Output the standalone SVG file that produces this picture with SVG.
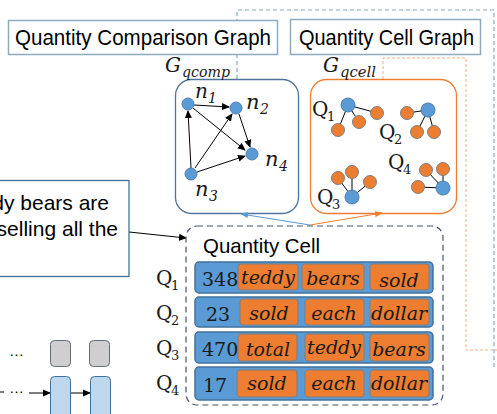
<svg xmlns="http://www.w3.org/2000/svg" width="497" height="414" viewBox="0 0 497 414">
<style>
.sans{font-family:"Liberation Sans","Open Sans",sans-serif;fill:#000}
.ser{font-family:"DejaVu Serif","Liberation Serif",serif;fill:#1a1a1a}
.it{font-family:"DejaVu Serif","Liberation Serif",serif;font-style:italic;fill:#1a1a1a}
.title{fill:#fff;stroke:#8eaabf;stroke-width:1.5}
.bn{fill:#5b9bd5;stroke:#4a7fb0;stroke-width:1}
.on{fill:#ed7d31;stroke:#7f7f7f;stroke-width:1}
.e{stroke:#000;stroke-width:1;fill:none}
.ea{stroke:#000;stroke-width:1;fill:none;marker-end:url(#ah)}
.row{fill:#5b9bd5;stroke:#41719c;stroke-width:1.5}
.chip{fill:#ed7d31;stroke:#7f7f7f;stroke-width:1}
</style>
<defs>
<marker id="ah" markerWidth="8" markerHeight="8" refX="7" refY="4" orient="auto" markerUnits="userSpaceOnUse"><path d="M0,0.5 L8,4 L0,7.5 Z" fill="#000"/></marker>
<marker id="ahb" markerWidth="8" markerHeight="6" refX="7" refY="3" orient="auto" markerUnits="userSpaceOnUse"><path d="M0,0 L8,3 L0,6 Z" fill="#5b9bd5"/></marker>
<marker id="aho" markerWidth="8" markerHeight="6" refX="7" refY="3" orient="auto" markerUnits="userSpaceOnUse"><path d="M0,0 L8,3 L0,6 Z" fill="#ed7d31"/></marker>
</defs>
<rect width="497" height="414" fill="#fff"/>

<g id="frames">
<path d="M237,79 V10 H494 V370" fill="none" stroke="#8eaabf" stroke-width="1.2" stroke-dasharray="4,3"/>
<path d="M383,79 V58 H466 V350 H497" fill="none" stroke="#f4b183" stroke-width="1" stroke-dasharray="3,2"/>
</g>

<g id="title-qcomp">
<rect class="title" x="8.5" y="20.5" width="269" height="34"/>
<text class="sans" x="15" y="45" font-size="22" textLength="256" lengthAdjust="spacingAndGlyphs">Quantity Comparison Graph</text>
</g>
<g id="title-qcell">
<rect class="title" x="290.5" y="19.5" width="190" height="35"/>
<text class="sans" x="299" y="45" font-size="22" textLength="175" lengthAdjust="spacingAndGlyphs">Quantity Cell Graph</text>
</g>

<g id="gqcomp">
<rect x="175.5" y="79.5" width="123" height="134" rx="16" fill="#fff" stroke="#50739a" stroke-width="1.3"/>
<text class="it" x="165" y="72" font-size="20">G</text>
<text class="it" x="182" y="77" font-size="14" textLength="48" lengthAdjust="spacingAndGlyphs">qcomp</text>
</g>
<g id="gqcell">
<rect x="310.5" y="79.5" width="146" height="134" rx="16" fill="#fff" stroke="#ed7d31" stroke-width="1.3"/>
<text class="it" x="323" y="72" font-size="20">G</text>
<text class="it" x="340" y="77" font-size="14" textLength="36" lengthAdjust="spacingAndGlyphs">qcell</text>
</g>

<g id="qcomp-edges">
<line class="ea" x1="194" y1="105" x2="229" y2="107"/>
<line class="ea" x1="193" y1="108" x2="245" y2="150"/>
<line class="ea" x1="239" y1="114" x2="250" y2="147"/>
<line class="ea" x1="191" y1="168" x2="188" y2="111"/>
<line class="ea" x1="195" y1="168" x2="232" y2="114"/>
<line class="ea" x1="197" y1="172" x2="245" y2="156"/>
</g>
<g id="n1"><circle class="bn" cx="188" cy="104" r="6"/><text class="it" x="195" y="98" font-size="20">n</text><text class="it" x="208" y="103" font-size="14">1</text></g>
<g id="n2"><circle class="bn" cx="236" cy="108" r="6"/><text class="it" x="246" y="109" font-size="21">n</text><text class="it" x="260" y="114" font-size="14">2</text></g>
<g id="n4"><circle class="bn" cx="252" cy="154" r="6"/><text class="it" x="265" y="166" font-size="21">n</text><text class="it" x="279" y="171" font-size="14">4</text></g>
<g id="n3"><circle class="bn" cx="191" cy="174" r="6"/><text class="it" x="195" y="196" font-size="21">n</text><text class="it" x="209" y="201" font-size="14">3</text></g>

<g id="qcell-Q1">
<path class="e" d="M348,105 L377,113 M348,105 L359,122 M348,105 L338,130"/>
<circle class="on" cx="377" cy="113" r="6.5"/><circle class="on" cx="359" cy="122" r="6.5"/><circle class="on" cx="338" cy="130" r="6.5"/>
<circle class="bn" cx="348" cy="105" r="7"/>
<text class="ser" x="312" y="116" font-size="20">Q</text><text class="ser" x="327" y="121" font-size="13">1</text>
</g>
<g id="qcell-Q2">
<path class="e" d="M428,110 L407,113 M428,110 L417,132 M428,110 L434,132"/>
<circle class="on" cx="407" cy="113" r="6.5"/><circle class="on" cx="417" cy="132" r="6.5"/><circle class="on" cx="434" cy="132" r="6.5"/>
<circle class="bn" cx="428" cy="110" r="7"/>
<text class="ser" x="379" y="139" font-size="20">Q</text><text class="ser" x="394" y="144" font-size="13">2</text>
</g>
<g id="qcell-Q4">
<path class="e" d="M443,188 L418,187 M443,188 L426,170 M443,188 L443,169"/>
<circle class="on" cx="426" cy="170" r="6.5"/><circle class="on" cx="443" cy="169" r="6.5"/><circle class="on" cx="418" cy="187" r="6.5"/>
<circle class="bn" cx="443" cy="188" r="7"/>
<text class="ser" x="388" y="169" font-size="20">Q</text><text class="ser" x="403" y="174" font-size="13">4</text>
</g>
<g id="qcell-Q3">
<path class="e" d="M352,197 L338,178 M352,197 L352,172 M352,197 L370,182"/>
<circle class="on" cx="338" cy="178" r="6.5"/><circle class="on" cx="352" cy="172" r="6.5"/><circle class="on" cx="370" cy="182" r="6.5"/>
<circle class="bn" cx="352" cy="197" r="7"/>
<text class="ser" x="317" y="204" font-size="20">Q</text><text class="ser" x="332" y="209" font-size="13">3</text>
</g>

<g id="connectors">
<line x1="310" y1="225" x2="241" y2="214" stroke="#5b9bd5" stroke-width="1" marker-end="url(#ahb)"/>
<line x1="310" y1="225" x2="382" y2="213" stroke="#ed7d31" stroke-width="1" marker-end="url(#aho)"/>
<line x1="129" y1="232" x2="186" y2="238" stroke="#000" stroke-width="1" marker-end="url(#ah)"/>
<line x1="29" y1="393" x2="50" y2="393" stroke="#000" stroke-width="1" marker-end="url(#ah)"/>
<line x1="70" y1="393" x2="90" y2="393" stroke="#000" stroke-width="1" marker-end="url(#ah)"/>
<line x1="0" y1="392" x2="4" y2="392" stroke="#000" stroke-width="1"/>
</g>

<g id="text-box">
<rect x="-5" y="180.5" width="134" height="96" fill="#fff" stroke="#41719c" stroke-width="1.3"/>
<text class="sans" x="109" y="210" font-size="21" text-anchor="end">dy bears are</text>
<text class="sans" x="118" y="236" font-size="21" text-anchor="end">selling all the</text>
</g>

<g id="quantity-cell">
<rect x="186" y="226" width="257" height="179" rx="11" fill="#fff" stroke="#44546a" stroke-width="1.2" stroke-dasharray="6,4"/>
<text class="sans" x="203" y="253" font-size="21" textLength="117" lengthAdjust="spacingAndGlyphs">Quantity Cell</text>
<rect class="row" x="195" y="262" width="238" height="31" rx="4"/>
<rect class="row" x="195" y="297" width="238" height="30" rx="4"/>
<rect class="row" x="195" y="332" width="238" height="31" rx="4"/>
<rect class="row" x="195" y="367" width="238" height="33" rx="4"/>
<rect class="chip" x="238" y="264" width="60" height="26" rx="3"/>
<rect class="chip" x="302" y="264" width="62" height="26" rx="3"/>
<rect class="chip" x="370" y="264" width="59" height="26" rx="3"/>
<rect class="chip" x="240" y="299" width="58" height="26" rx="3"/>
<rect class="chip" x="305" y="299" width="59" height="26" rx="3"/>
<rect class="chip" x="370" y="299" width="59" height="26" rx="3"/>
<rect class="chip" x="238" y="334" width="59" height="27" rx="3"/>
<rect class="chip" x="305" y="334" width="59" height="27" rx="3"/>
<rect class="chip" x="370" y="334" width="59" height="27" rx="3"/>
<rect class="chip" x="237" y="370" width="60" height="27" rx="3"/>
<rect class="chip" x="305" y="370" width="59" height="27" rx="3"/>
<rect class="chip" x="370" y="370" width="59" height="27" rx="3"/>
<g class="ser" font-size="19">
<text x="202" y="286">348</text>
<text x="206" y="321">23</text>
<text x="202" y="356">470</text>
<text x="203" y="392">17</text>
</g>
<g class="it" font-size="19" text-anchor="middle">
<text x="268" y="284">teddy</text><text x="333" y="285">bears</text><text x="399" y="287">sold</text>
<text x="269" y="320">sold</text><text x="334" y="320">each</text><text x="399" y="320">dollar</text>
<text x="268" y="356">total</text><text x="334" y="354">teddy</text><text x="399" y="356">bears</text>
<text x="267" y="390">sold</text><text x="334" y="390">each</text><text x="399" y="390">dollar</text>
</g>
<g class="ser">
<text x="156" y="285" font-size="20">Q</text><text x="171" y="290" font-size="13">1</text>
<text x="156" y="320" font-size="20">Q</text><text x="171" y="325" font-size="13">2</text>
<text x="156" y="355" font-size="20">Q</text><text x="171" y="360" font-size="13">3</text>
<text x="156" y="390" font-size="20">Q</text><text x="171" y="395" font-size="13">4</text>
</g>
</g>

<g id="bottom-left">
<text class="sans" x="9" y="356" font-size="15">…</text>
<text class="sans" x="9" y="393" font-size="15">…</text>
<rect x="50.5" y="340.5" width="20" height="26" rx="4" fill="#d0cece" stroke="#5f6f80" stroke-width="1"/>
<rect x="89.5" y="340.5" width="20" height="26" rx="4" fill="#d0cece" stroke="#5f6f80" stroke-width="1"/>
<rect x="50.5" y="376.5" width="20" height="50" rx="4" fill="#bdd7ee" stroke="#41719c" stroke-width="1"/>
<rect x="90.5" y="376.5" width="20" height="50" rx="4" fill="#bdd7ee" stroke="#41719c" stroke-width="1"/>
</g>
</svg>
